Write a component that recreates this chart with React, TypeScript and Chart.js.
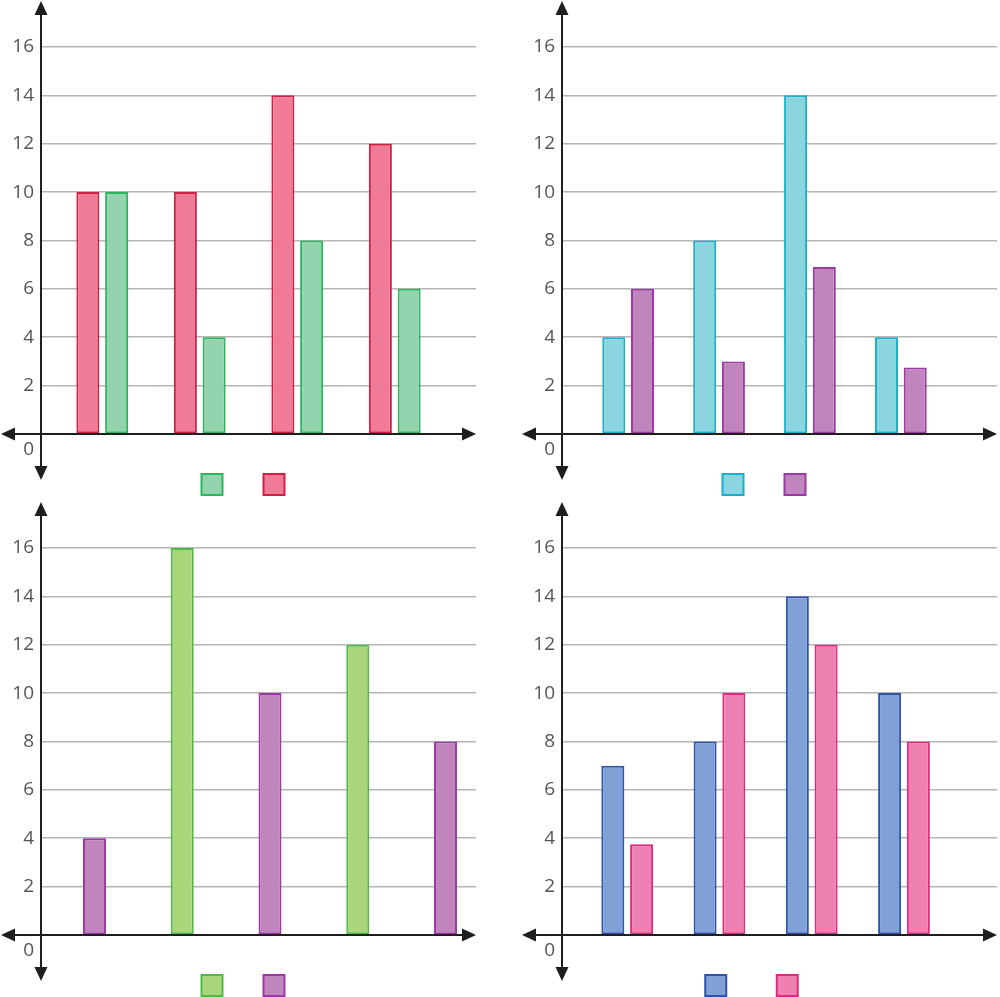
import { useEffect, useRef } from 'react';
import { Chart, registerables } from 'chart.js';

Chart.register(...registerables);

// Shared value axis
const yTickValues = [0, 2, 4, 6, 8, 10, 12, 14, 16];
const yTop = 17.9;
const yAxisTail = -1.9;

// Top-left panel
const groupsA = ['A', 'B', 'C', 'D'];
const redA = [10, 10, 14, 12];
const greenA = [10, 4, 8, 6];

// Top-right panel
const groupsB = ['A', 'B', 'C', 'D'];
const cyanB = [4, 8, 14, 4];
const purpleB = [6, 3, 6.9, 2.75];

// Bottom-left panel
const groupsC = ['A', 'B', 'C', 'D', 'E'];
const limeC = [null, 16, null, 12, null];
const violetC = [4, null, 10, null, 8];

// Bottom-right panel
const groupsD = ['A', 'B', 'C', 'D'];
const blueD = [7, 8, 14, 10];
const pinkD = [3.75, 10, 12, 8];

type Series = { name: string; values: (number | null)[]; fill: string; stroke: string };
type Panel = {
  labels: string[];
  series: Series[];
  perGroup: number;
  legendReverse: boolean;
  legendFont: number;
  padLeft: number;
  band: { start: number; end: number };
  left: number;
  top: number;
};

const AXIS_COLOR = '#1e1e1e';
const BAR_PITCH = 28.75;
const BAR_FRACTION = 0.8;

// Arrowed axes: horizontal through zero, vertical along the plot's left edge
const axisArrows = {
  id: 'axisArrows',
  afterDatasetsDraw(chart: any) {
    const { ctx, chartArea, scales } = chart;
    const y = scales.y;
    const ox = chartArea.left;
    const oy = y.getPixelForValue(0);
    const top = chartArea.top;
    const bottom = y.getPixelForValue(yAxisTail);
    const left = 1;
    const right = chartArea.right;
    const len = 14;
    const half = 6.5;
    ctx.save();
    ctx.strokeStyle = AXIS_COLOR;
    ctx.fillStyle = AXIS_COLOR;
    ctx.lineWidth = 2;
    ctx.beginPath();
    ctx.moveTo(left + len - 2, oy);
    ctx.lineTo(right - len + 2, oy);
    ctx.moveTo(ox, top + len - 2);
    ctx.lineTo(ox, bottom - len + 2);
    ctx.stroke();
    const head = (tx: number, ty: number, dx: number, dy: number) => {
      const bx = tx - dx * len;
      const by = ty - dy * len;
      ctx.beginPath();
      ctx.moveTo(tx, ty);
      ctx.lineTo(bx - dy * half, by + dx * half);
      ctx.lineTo(bx + dy * half, by - dx * half);
      ctx.closePath();
      ctx.fill();
    };
    head(left, oy, -1, 0);
    head(right, oy, 1, 0);
    head(ox, top, 0, -1);
    head(ox, bottom, 0, 1);
    ctx.restore();
  },
};

// Lays the (hidden) category axis over its own horizontal band of the plot
const categoryBand = {
  id: 'categoryBand',
  afterLayout(chart: any, _args: any, opts: any) {
    const x = chart.scales.x;
    if (!x || !opts || opts.start == null) return;
    x.left = opts.start;
    x.right = opts.end;
    x.width = opts.end - opts.start;
    x.configure();
  },
};

const panels: Panel[] = [
  {
    labels: groupsA,
    series: [
      { name: 'Red', values: redA, fill: '#ef7b98', stroke: '#cf1f42' },
      { name: 'Green', values: greenA, fill: '#93d3ae', stroke: '#2db55d' },
    ],
    perGroup: 2,
    legendReverse: true,
    legendFont: 2,
    padLeft: 11,
    band: { start: 53.5, end: 443.5 },
    left: 0,
    top: 0,
  },
  {
    labels: groupsB,
    series: [
      { name: 'Cyan', values: cyanB, fill: '#8bd5e0', stroke: '#1ab0c9' },
      { name: 'Purple', values: purpleB, fill: '#c185bd', stroke: '#9b3aa3' },
    ],
    perGroup: 2,
    legendReverse: false,
    legendFont: 2,
    padLeft: 11,
    band: { start: 61.7, end: 425.3 },
    left: 521,
    top: 0,
  },
  {
    labels: groupsC,
    series: [
      { name: 'Lime', values: limeC, fill: '#abd57b', stroke: '#4dbb46' },
      { name: 'Violet', values: violetC, fill: '#c185bd', stroke: '#9b3aa3' },
    ],
    perGroup: 1,
    legendReverse: false,
    legendFont: 2,
    padLeft: 11,
    band: { start: 50.6, end: 489.4 },
    left: 0,
    top: 501,
  },
  {
    labels: groupsD,
    series: [
      { name: 'Blue', values: blueD, fill: '#7fa1d5', stroke: '#3052ab' },
      { name: 'Pink', values: pinkD, fill: '#ef80b2', stroke: '#dc2a80' },
    ],
    perGroup: 2,
    legendReverse: false,
    legendFont: 21,
    padLeft: -4.5,
    band: { start: 60.1, end: 429.1 },
    left: 521,
    top: 501,
  },
];

const CANVAS_W = 479;
const CANVAS_H = 496;

function BarPanel({ panel }: { panel: Panel }) {
  const ref = useRef<HTMLCanvasElement | null>(null);

  useEffect(() => {
    if (!ref.current) return;
    const padLeft = panel.padLeft;
    const groupWidth = (panel.band.end - panel.band.start) / panel.labels.length;
    const catPct = (BAR_PITCH * panel.perGroup) / groupWidth;
    const chart = new Chart(ref.current, {
      type: 'bar',
      data: {
        labels: panel.labels,
        datasets: panel.series.map((s) => ({
          label: s.name,
          data: s.values,
          backgroundColor: s.fill,
          borderColor: s.stroke,
          borderWidth: 2,
          borderSkipped: false,
          categoryPercentage: catPct,
          barPercentage: BAR_FRACTION,
          skipNull: true,
        })),
      },
      options: {
        animation: false,
        responsive: false,
        devicePixelRatio: 1,
        layout: { padding: { left: padLeft, right: 3, top: 1, bottom: 0 } },
        plugins: {
          tooltip: { enabled: false },
          categoryBand: panel.band,
          legend: {
            position: 'bottom',
            reverse: panel.legendReverse,
            maxHeight: 62,
            labels: {
              boxWidth: 21,
              boxHeight: 21,
              padding: 40,
              font: { size: panel.legendFont },
              generateLabels: (c: any) =>
                (Chart.defaults.plugins.legend.labels as any)
                  .generateLabels(c)
                  .map((item: any) => ({ ...item, text: '' })),
            },
          },
        },
        scales: {
          x: { display: false, grid: { display: false } },
          y: {
            min: 0,
            max: yTop,
            afterBuildTicks: (s: any) => {
              s.ticks = yTickValues.map((v) => ({ value: v }));
            },
            afterFit: (s: any) => {
              s.width = 41 - padLeft;
              s.paddingTop = 0;
              s.paddingBottom = 0;
            },
            border: { display: false },
            grid: {
              color: (c: any) => (c.tick && c.tick.value === 0 ? 'rgba(0,0,0,0)' : '#b5b5b5'),
              lineWidth: 1.5,
              drawTicks: false,
            },
            ticks: {
              autoSkip: false,
              padding: 7,
              color: '#555555',
              font: { family: "'Open Sans', sans-serif", size: 19, lineHeight: 1.6 },
              callback: (v: any) => (Number(v) === 0 ? ['', '0'] : String(v)),
            },
          },
        },
      } as any,
      plugins: [categoryBand, axisArrows],
    });
    return () => chart.destroy();
  }, [panel]);

  return (
    <canvas
      ref={ref}
      width={CANVAS_W}
      height={CANVAS_H}
      style={{
        position: 'absolute',
        left: panel.left,
        top: panel.top,
        width: CANVAS_W,
        height: CANVAS_H,
        display: 'block',
      }}
    />
  );
}

export default function App() {
  return (
    <div
      style={{
        position: 'absolute',
        left: 0,
        top: 0,
        width: 1000,
        height: 997,
        overflow: 'hidden',
        background: '#ffffff',
      }}
    >
      {panels.map((p, i) => (
        <BarPanel key={i} panel={p} />
      ))}
    </div>
  );
}
